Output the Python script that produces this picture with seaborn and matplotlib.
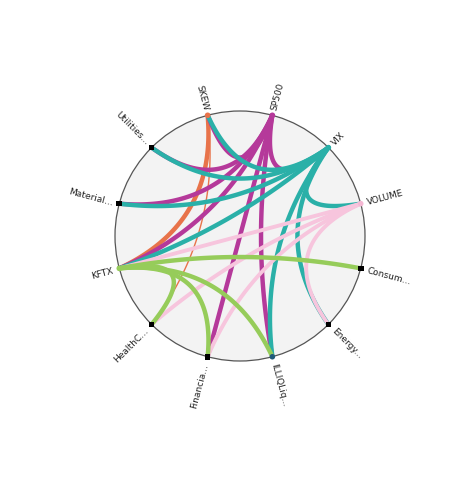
import numpy as np
import matplotlib.pyplot as plt
import seaborn as sns

nodes = ["VOLUME", "VIX", "SP500", "SKEW", "Utilities...", "Material...", "KFTX",
         "HealthC...", "Financia...", "ILLIQLiq...", "Energy...", "Consum..."]
angles = [15, 45, 75, 105, 135, 165, 195, 225, 255, 285, 315, 345]
node_colors = ["#f5b8d4", "#2ab0a8", "#b5399a", "#e8734a", "black", "black", "#96cc5a",
               "black", "black", "#1f5a7a", "black", "black"]
node_markers = ["o", "o", "o", "o", "s", "s", "o", "s", "s", "o", "s", "s"]

sources = ["SKEW", "SKEW",
           "SP500", "SP500", "SP500", "SP500", "SP500", "SP500", "SP500",
           "VIX", "VIX", "VIX", "VIX", "VIX", "VIX", "VIX",
           "VOLUME", "VOLUME", "VOLUME", "VOLUME",
           "KFTX", "KFTX", "KFTX", "KFTX"]
targets = ["KFTX", "HealthC...",
           "SKEW", "VIX", "Utilities...", "Material...", "KFTX", "Financia...", "ILLIQLiq...",
           "SKEW", "Utilities...", "Material...", "KFTX", "VOLUME", "ILLIQLiq...", "Energy...",
           "KFTX", "HealthC...", "Financia...", "Energy...",
           "Consum...", "HealthC...", "Financia...", "ILLIQLiq..."]
widths = [3.2, 1.0,
          3.2, 3.2, 3.2, 3.2, 3.2, 3.2, 3.2,
          3.2, 3.2, 3.2, 3.2, 3.2, 3.2, 3.2,
          2.8, 2.8, 2.8, 2.8,
          3.2, 3.2, 3.2, 3.2]
source_colors = {"SKEW": "#e8734a", "SP500": "#b5399a", "VIX": "#2ab0a8",
                 "VOLUME": "#f7c5dd", "KFTX": "#96cc5a"}

sns.set_style("white")
fig = plt.figure(figsize=(4.74, 4.81), dpi=100)
ax = fig.add_axes([0, 0, 1, 1])
ax.set_xlim(-1.92, 1.872)
ax.set_ylim(-1.952, 1.896)
ax.set_aspect("equal")
ax.axis("off")

ax.add_patch(plt.Circle((0, 0), 1, facecolor="#f3f3f3", edgecolor="#555555", lw=0.9, zorder=0))

pos = {n: (np.cos(np.radians(a)), np.sin(np.radians(a))) for n, a in zip(nodes, angles)}
t = np.linspace(0, 1, 60)
for s, d, w in zip(sources, targets, widths):
    p0, p2 = np.array(pos[s]), np.array(pos[d])
    ctrl = 0.3 * (p0 + p2) / 2
    pts = ((1 - t) ** 2)[:, None] * p0 + (2 * t * (1 - t))[:, None] * ctrl + (t ** 2)[:, None] * p2
    ax.plot(pts[:, 0], pts[:, 1], color=source_colors[s], lw=w, solid_capstyle="round", zorder=2)

for n, a, c, m in zip(nodes, angles, node_colors, node_markers):
    x, y = pos[n]
    ax.scatter([x], [y], color=c, marker=m, s=16, zorder=3, edgecolors="none")
    rot = a - 360 if a > 270 else (a if a < 90 else a - 180)
    ha = "left" if (a < 90 or a > 270) else "right"
    ax.text(1.05 * x, 1.05 * y, n, rotation=rot, rotation_mode="anchor",
            ha=ha, va="center", fontsize=6.5, color="#222222")

fig.savefig("out.png", dpi=100)
